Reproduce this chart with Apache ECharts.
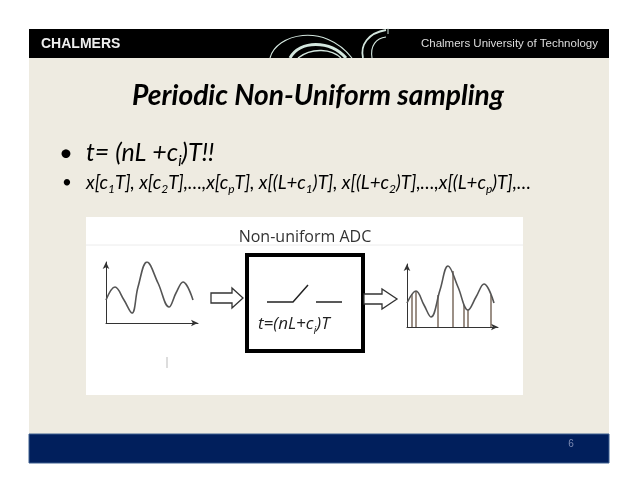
<!DOCTYPE html>
<html>
<head>
<meta charset="utf-8">
<script src="https://cdn.jsdelivr.net/npm/echarts@6/dist/echarts.min.js"></script>
<style>
html,body{margin:0;padding:0;background:#ffffff;}
#c{width:638px;height:493px;}
</style>
</head>
<body>
<div id="c"></div>
<script>
// ---- text content ----
const headerLeft = 'CHALMERS';
const headerRight = 'Chalmers University of Technology';
const slideTitle = 'Periodic Non-Uniform sampling';
const bullet1 = '{a|t= (nL +c}{s|i}{a|)T!!}';
const bullet2 = '{a|x[c}{s|1}{a|T], x[c}{s|2}{a|T],…,x[c}{s|p}{a|T], x[(L+c}{s|1}{a|)T], x[(L+c}{s|2}{a|)T],…,x[(L+c}{s|p}{a|)T],…}';
const diagramTitle = 'Non-uniform ADC';
const boxFormula = '{a|t=(nL+c}{s|i}{a|)T}';
const pageNumber = '6';

// ---- input signal (left plot) ----
const inX = [0, 9, 18, 26, 32, 41, 52, 63, 70, 77, 87];
const inY = [23, 36, 23, 10, 36, 61, 40, 16, 30, 41, 23];

// ---- sampled signal (right plot) ----
const outX = [0, 9, 17, 24, 33, 41, 51, 61, 69, 77, 87];
const outY = [24, 36, 22, 10, 37, 61, 40, 17, 30, 43, 24];

// ---- non-uniform sample instants and values ----
const sampleX = [5, 9, 31, 46, 57, 61, 84];
const sampleY = [33, 36, 32, 56, 22, 17, 32];

const zip = (a, b) => a.map((v, i) => [v, b[i]]);

const chart = echarts.init(document.getElementById('c'));

const axisCommon = (max) => ({
  type: 'value', min: 0, max: max,
  splitLine: { show: false }, axisTick: { show: false }, axisLabel: { show: false },
  axisLine: { show: true, onZero: false, lineStyle: { color: '#333', width: 1 },
    symbol: ['none', 'arrow'], symbolSize: [5, 7] }
});

const g = [];
// slide background
g.push({ type: 'rect', shape: { x: 29, y: 58, width: 580, height: 376 }, style: { fill: '#eeebe1' }, z: -10 });
// header bar
g.push({ type: 'rect', shape: { x: 29, y: 29, width: 580, height: 29 }, style: { fill: '#000000' }, z: -9 });
// header swirls
const swirl = (x1, y1, c1x, c1y, c2x, c2y, x2, y2, w) => ({
  type: 'bezierCurve', z: -8,
  shape: { x1, y1, cpx1: c1x, cpy1: c1y, cpx2: c2x, cpy2: c2y, x2, y2 },
  style: { stroke: '#d3e6de', lineWidth: w, fill: null }
});
g.push(swirl(270, 58, 276, 34, 324, 22, 352, 58, 1.1));
g.push(swirl(290, 58, 300, 40, 330, 40, 346, 58, 3));
g.push(swirl(298, 58, 312, 47, 332, 49, 341, 58, 1.3));
g.push(swirl(363, 58, 360, 45, 368, 33, 386, 30, 1.8));
g.push(swirl(372, 58, 370, 46, 376, 38, 386, 37, 1.1));
g.push({ type: 'line', z: -8, shape: { x1: 388, y1: 28, x2: 388, y2: 34 }, style: { stroke: '#d3e6de', lineWidth: 1 } });
g.push({ type: 'text', x: 41, y: 44, z: -7, style: { text: headerLeft, fill: '#eeeeee', font: 'bold 14px "Liberation Sans", Arial, sans-serif', textVerticalAlign: 'middle' } });
g.push({ type: 'text', x: 598, y: 44, z: -7, style: { text: headerRight, fill: '#dddddd', font: '11.5px "Liberation Sans", Arial, sans-serif', textAlign: 'right', textVerticalAlign: 'middle' } });
// footer bar
g.push({ type: 'rect', shape: { x: 29, y: 434, width: 580, height: 29 }, style: { fill: '#011f5c', stroke: '#3d5f8f', lineWidth: 1 }, z: -9 });
g.push({ type: 'text', x: 571, y: 444, z: -7, style: { text: pageNumber, fill: '#7d8bb3', font: '10px "Liberation Sans", Arial, sans-serif', textAlign: 'center', textVerticalAlign: 'middle' } });

// title
g.push({ type: 'text', x: 318, y: 96, style: { text: slideTitle, fill: '#000', font: 'italic bold 28.2px Lato, "Open Sans", sans-serif', textAlign: 'center', textVerticalAlign: 'middle' } });
// bullets
g.push({ type: 'text', x: 59, y: 153, style: { text: '•', fill: '#000', font: '24px Lato, sans-serif', textVerticalAlign: 'middle' } });
g.push({ type: 'text', x: 86, y: 137, style: { text: bullet1, fill: '#000',
  rich: { a: { fontFamily: 'Lato', fontStyle: 'italic', fontSize: 25, lineHeight: 32, color: '#000' },
          s: { fontFamily: 'Lato', fontStyle: 'italic', fontSize: 15, lineHeight: 19, verticalAlign: 'bottom', color: '#000' } } } });
g.push({ type: 'text', x: 62, y: 183, style: { text: '•', fill: '#000', font: '17px Lato, sans-serif', textVerticalAlign: 'middle' } });
g.push({ type: 'text', x: 86, y: 171, style: { text: bullet2, fill: '#000',
  rich: { a: { fontFamily: 'Lato', fontStyle: 'italic', fontSize: 18.7, lineHeight: 24, color: '#000' },
          s: { fontFamily: 'Lato', fontStyle: 'italic', fontSize: 12, lineHeight: 14, verticalAlign: 'bottom', color: '#000' } } } });

// diagram panel
g.push({ type: 'rect', shape: { x: 86, y: 217, width: 437, height: 178 }, style: { fill: '#ffffff' }, z: -5 });
g.push({ type: 'line', shape: { x1: 86, y1: 245, x2: 523, y2: 245 }, style: { stroke: '#ececec', lineWidth: 1 }, z: -4 });
g.push({ type: 'text', x: 305, y: 237, style: { text: diagramTitle, fill: '#333', font: '16px "Open Sans", "Noto Sans", sans-serif', textAlign: 'center', textVerticalAlign: 'middle' } });
// ADC box
g.push({ type: 'rect', shape: { x: 247, y: 255, width: 116, height: 96 }, style: { fill: '#fff', stroke: '#000', lineWidth: 4 } });
// switch
g.push({ type: 'polyline', shape: { points: [[267, 302], [293, 302], [308, 285]] }, style: { stroke: '#222', lineWidth: 1.5, fill: null } });
g.push({ type: 'line', shape: { x1: 316, y1: 302, x2: 342, y2: 302 }, style: { stroke: '#222', lineWidth: 1.5 } });
g.push({ type: 'text', x: 258, y: 313, style: { text: boxFormula, fill: '#222',
  rich: { a: { fontFamily: 'Open Sans', fontStyle: 'italic', fontSize: 17, lineHeight: 23, color: '#222' },
          s: { fontFamily: 'Open Sans', fontStyle: 'italic', fontSize: 11, lineHeight: 13, verticalAlign: 'bottom', color: '#222' } } } });
// hollow arrows
const arrow = (x0, x1, xt, cy) => ({
  type: 'polygon',
  shape: { points: [[x0, cy - 5], [x1, cy - 5], [x1, cy - 10], [xt, cy], [x1, cy + 10], [x1, cy + 5], [x0, cy + 5]] },
  style: { fill: '#fff', stroke: '#333', lineWidth: 1.3 }
});
g.push(arrow(211, 232, 243, 298));
g.push(arrow(364, 382, 397, 299));
// faint mark under left plot
g.push({ type: 'line', shape: { x1: 167, y1: 357, x2: 167, y2: 368 }, style: { stroke: '#bbb', lineWidth: 1 } });

chart.setOption({
  backgroundColor: '#ffffff',
  animation: false,
  grid: [
    { left: 106, top: 262, width: 92, height: 61 },
    { left: 407, top: 264, width: 91, height: 63 }
  ],
  xAxis: [
    Object.assign(axisCommon(92), { gridIndex: 0 }),
    Object.assign(axisCommon(91), { gridIndex: 1 })
  ],
  yAxis: [
    Object.assign(axisCommon(61), { gridIndex: 0 }),
    Object.assign(axisCommon(63), { gridIndex: 1 })
  ],
  series: [
    { type: 'line', xAxisIndex: 0, yAxisIndex: 0, data: zip(inX, inY), smooth: 0.4,
      showSymbol: false, lineStyle: { color: '#555', width: 1.6 } },
    { type: 'bar', xAxisIndex: 1, yAxisIndex: 1, data: zip(sampleX, sampleY), barWidth: 1.2,
      itemStyle: { color: '#5a4636' } },
    { type: 'line', xAxisIndex: 1, yAxisIndex: 1, data: zip(outX, outY), smooth: 0.4,
      showSymbol: false, lineStyle: { color: '#555', width: 1.6 } }
  ],
  graphic: { elements: g }
});
</script>
</body>
</html>
